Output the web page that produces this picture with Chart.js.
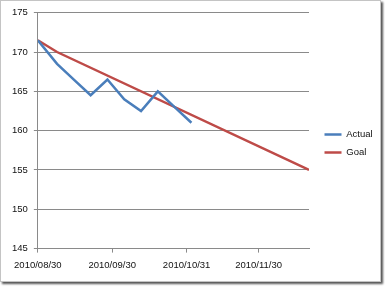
<!DOCTYPE html>
<html>
<head>
<meta charset="utf-8">
<script src="https://cdn.jsdelivr.net/npm/chart.js@4/dist/chart.umd.min.js"></script>
<style>
  html, body { margin: 0; padding: 0; background: #ffffff; }
  #frame {
    position: absolute; left: 0; top: 0;
    width: 379px; height: 280px;
    border: 1px solid #c4c4c4;
    box-shadow: 2px 2px 2px #555555;
    background: #ffffff;
  }
  canvas { display: block; }
</style>
</head>
<body>
<div id="frame"><canvas id="c" width="379" height="280"></canvas></div>
<script>
// ---- data ----
const actualDates  = ["2010/08/30","2010/09/07","2010/09/14","2010/09/21","2010/09/28","2010/10/05","2010/10/12","2010/10/19","2010/10/26","2010/11/02"];
const actualValues = [171.5, 168.5, 166.5, 164.5, 166.5, 164.0, 162.5, 165.0, 163.0, 161.0];
const goalDates    = ["2010/08/30","2010/09/07","2010/12/21"];
const goalValues   = [171.5, 170.0, 155.0];
const xTickLabels  = ["2010/08/30","2010/09/30","2010/10/31","2010/11/30"];
const yTickValues  = [145, 150, 155, 160, 165, 170, 175];
const seriesNames  = ["Actual", "Goal"];

function toMs(s) {
  const p = s.split('/').map(Number);
  return Date.UTC(p[0], p[1] - 1, p[2]);
}
function pts(dates, vals) {
  return dates.map((d, i) => ({ x: toMs(d), y: vals[i] }));
}

const FONT = { family: "'Liberation Sans', Arial, sans-serif", size: 9.5 };
const GRID = '#8a8a8a';
const TXT = '#111';

new Chart(document.getElementById('c'), {
  type: 'line',
  data: {
    datasets: [
      { label: seriesNames[0], data: pts(actualDates, actualValues),
        borderColor: '#4a7ebb', backgroundColor: '#4a7ebb', borderWidth: 2.5,
        pointRadius: 0, tension: 0 },
      { label: seriesNames[1], data: pts(goalDates, goalValues),
        borderColor: '#be4b48', backgroundColor: '#be4b48', borderWidth: 2.5,
        pointRadius: 0, tension: 0 }
    ]
  },
  options: {
    responsive: false,
    animation: false,
    layout: { padding: { left: 5, right: 2, top: 8, bottom: 3 } },
    plugins: {
      tooltip: { enabled: false },
      legend: {
        position: 'right',
        align: 'center',
        labels: {
          font: FONT,
          color: TXT,
          boxWidth: 17,
          boxHeight: 2.5,
          padding: 8.5,
          generateLabels: function (chart) {
            const items = Chart.defaults.plugins.legend.labels.generateLabels(chart);
            items.forEach(it => { it.lineWidth = 0; });
            return items;
          }
        }
      }
    },
    scales: {
      x: {
        type: 'linear',
        min: toMs(goalDates[0]),
        max: toMs(goalDates[goalDates.length - 1]),
        afterBuildTicks: function (scale) {
          scale.ticks = xTickLabels.map(d => ({ value: toMs(d) }));
        },
        ticks: {
          font: FONT, color: TXT, padding: 7, maxRotation: 0, autoSkip: false,
          callback: function (v, i) { return xTickLabels[i]; }
        },
        grid: { drawOnChartArea: false, drawTicks: true, tickLength: 4, color: GRID },
        border: { display: true, color: GRID }
      },
      y: {
        min: yTickValues[0],
        max: yTickValues[yTickValues.length - 1],
        afterBuildTicks: function (scale) {
          scale.ticks = yTickValues.map(v => ({ value: v }));
        },
        ticks: { font: FONT, color: TXT, padding: 6 },
        grid: { color: GRID, tickLength: 4, drawTicks: true },
        border: { display: true, color: GRID }
      },
      gap: {
        position: 'right',
        display: true,
        ticks: { display: false },
        grid: { display: false, drawOnChartArea: false },
        border: { display: false },
        afterFit: function (scale) { scale.width = 7; }
      }
    }
  }
});
</script>
</body>
</html>
